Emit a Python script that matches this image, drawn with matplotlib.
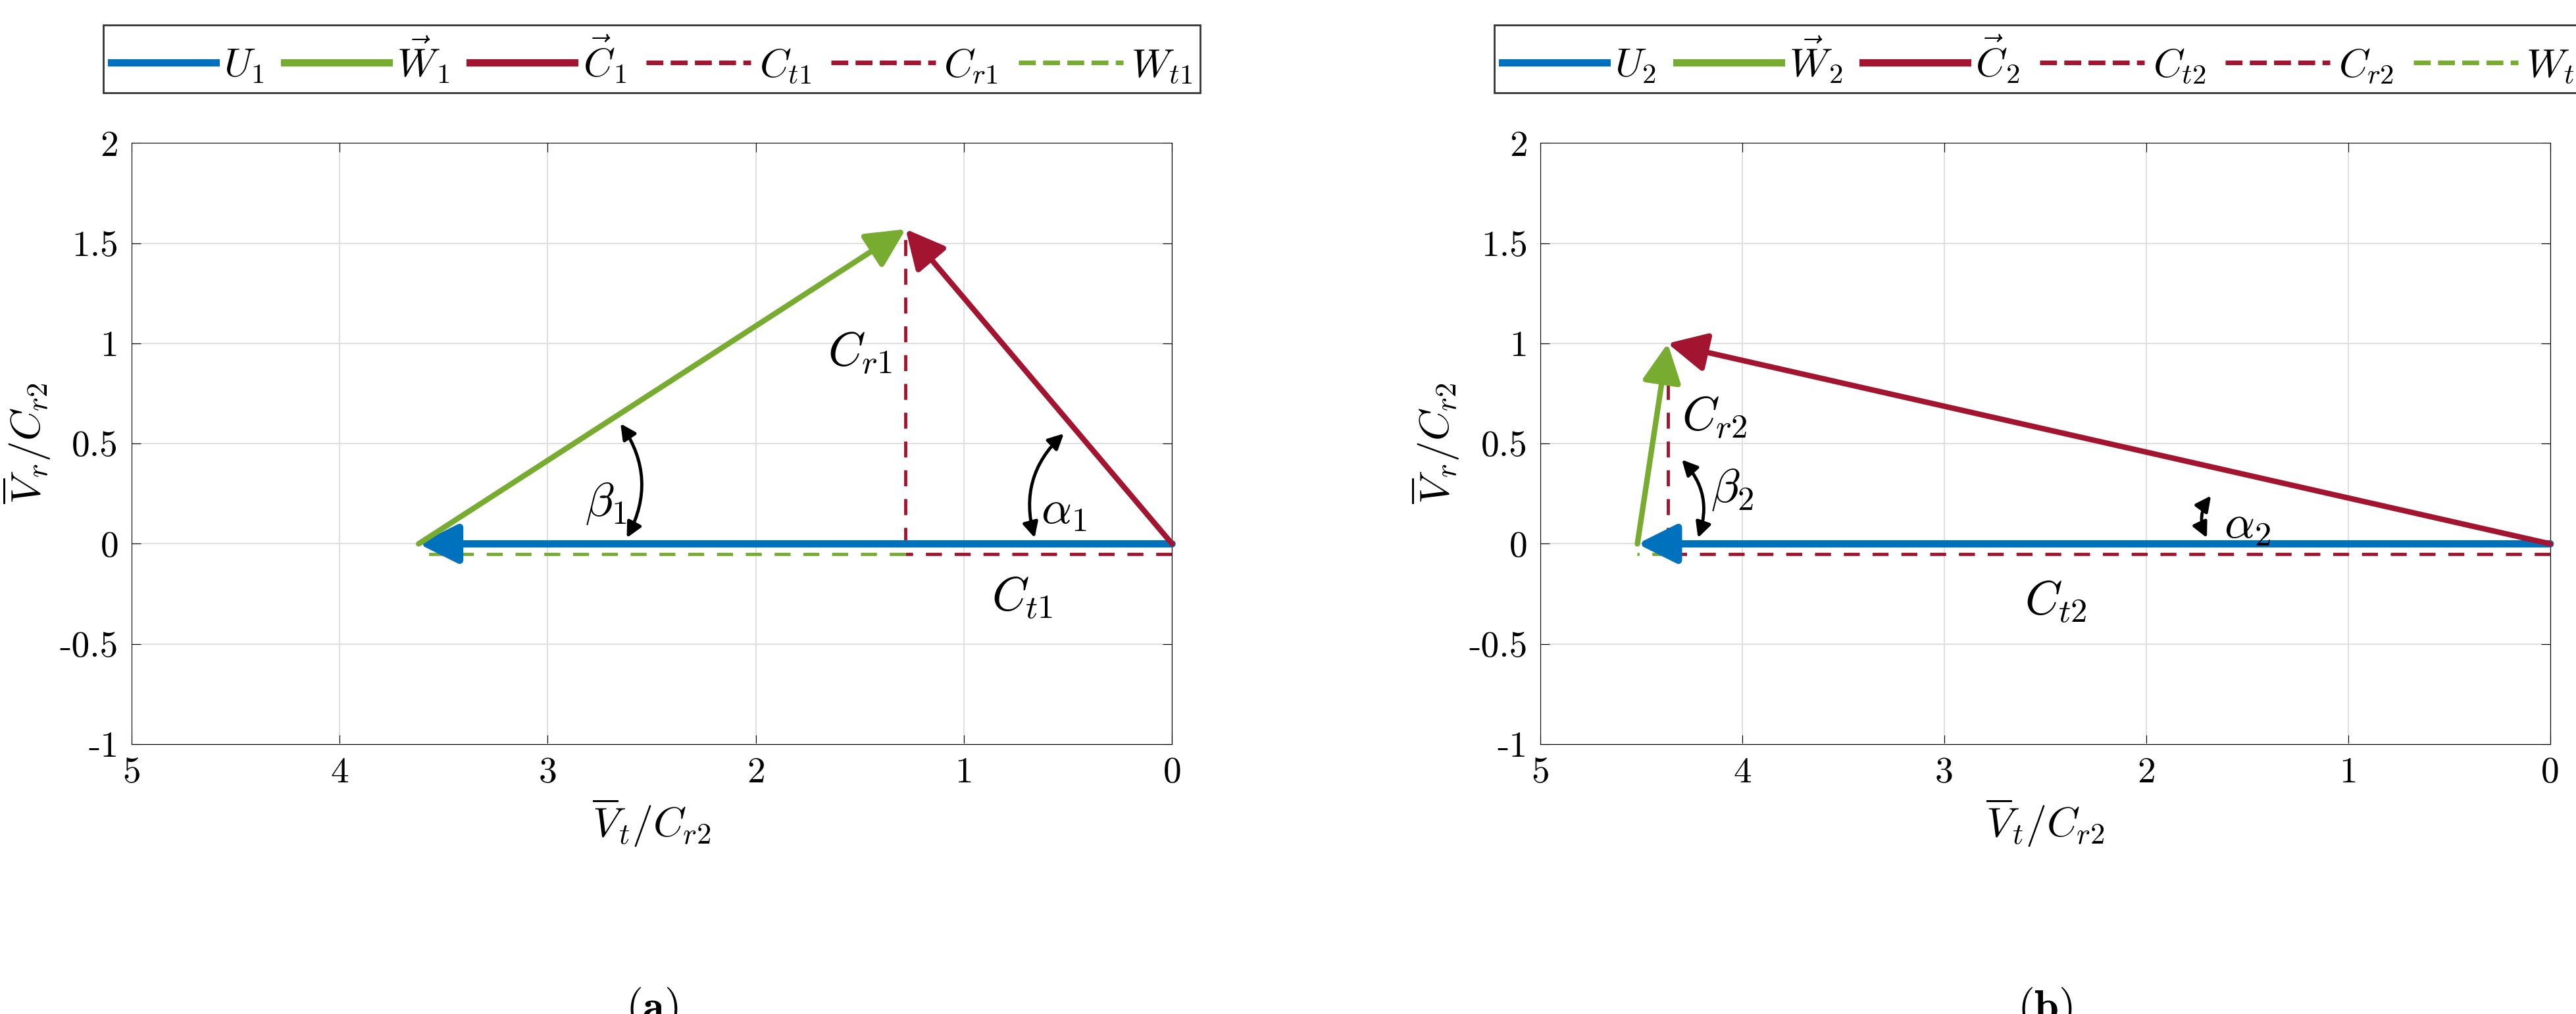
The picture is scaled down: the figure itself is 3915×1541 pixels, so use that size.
import matplotlib
matplotlib.use("Agg")
import matplotlib.pyplot as plt
from matplotlib.lines import Line2D

plt.rcParams['mathtext.fontset'] = 'cm'
plt.rcParams['font.family'] = ['cmr10', 'DejaVu Serif']

# data
U_end = [3.62, 4.52]          # U vector tip (x), starts at 0
apex_x = [1.28, 4.37]         # tip of W and C
apex_y = [1.57, 1.00]
offset = -0.05                # dashed component lines
xticks = [5, 4, 3, 2, 1, 0]
yticks = [-1, -0.5, 0, 0.5, 1, 1.5, 2]
ytick_labels = ['-1', '-0.5', '0', '0.5', '1', '1.5', '2']
beta_pos = [(2.72, 0.2), (4.05, 0.27)]
alpha_pos = [(0.52, 0.16), (1.50, 0.09)]
beta_arc = [((2.65, 0.60), (2.62, 0.03)), ((4.30, 0.42), (4.22, 0.03))]
alpha_arc = [((0.52, 0.55), (0.66, 0.03)), ((1.68, 0.24), (1.70, 0.03))]
cr_pos = [(1.50, 0.95), (4.14, 0.63)]
ct_pos = [(0.72, -0.27), (2.45, -0.29)]
captions = [r'($\mathbf{a}$)', r'($\mathbf{b}$)']

blue = '#0072BD'; green = '#77AC30'; red = '#A2142F'
fig = plt.figure(figsize=(39.15, 15.41), dpi=100)
axes = [fig.add_axes([0.051, 0.266, 0.404, 0.593]),
        fig.add_axes([0.598, 0.266, 0.392, 0.593])]

for i, ax in enumerate(axes):
    n = i + 1
    ax.set_xlim(5, 0); ax.set_ylim(-1, 2)
    ax.set_xticks(xticks); ax.set_yticks(yticks)
    ax.set_xticklabels([str(t) for t in xticks])
    ax.set_yticklabels(ytick_labels)
    ax.tick_params(labelsize=40, direction='in', length=10, top=True, right=True, pad=14)
    ax.grid(True, color='#e0e0e0', lw=1.5)
    ax.set_axisbelow(True)
    ax.set_xlabel(r'$\overline{V}_t/C_{r2}$', fontsize=46, labelpad=8)
    ax.set_ylabel(r'$\overline{V}_r/C_{r2}$', fontsize=46, labelpad=8)
    ux, ax_, ay = U_end[i], apex_x[i], apex_y[i]
    ax.plot([0, ax_], [offset, offset], '--', color=red, lw=3.5, dashes=(5, 4))
    ax.plot([ax_, ax_], [0, ay], '--', color=red, lw=3.5, dashes=(5, 4))
    ax.plot([ax_, ux], [offset, offset], '--', color=green, lw=3.5, dashes=(5, 4))
    ap = dict(arrowstyle='-|>', mutation_scale=90, shrinkA=0, shrinkB=0)
    ax.annotate('', xy=(ux, 0), xytext=(0, 0),
                arrowprops=dict(color=blue, lw=8, **ap))
    ax.annotate('', xy=(ax_, ay), xytext=(ux, 0),
                arrowprops=dict(color=green, lw=6, **ap))
    ax.annotate('', xy=(ax_, ay), xytext=(0, 0),
                arrowprops=dict(color=red, lw=6, **ap))
    for (s, e), rad in [(beta_arc[i], -0.3), (alpha_arc[i], 0.3)]:
        ax.annotate('', xy=e, xytext=s,
                    arrowprops=dict(arrowstyle='<|-|>', color='black', lw=3.5,
                                    mutation_scale=35, shrinkA=0, shrinkB=0,
                                    connectionstyle=f'arc3,rad={rad}'))
    ax.text(*beta_pos[i], rf'$\beta_{n}$', fontsize=52, ha='center', va='center')
    ax.text(*alpha_pos[i], rf'$\alpha_{n}$', fontsize=52, ha='center', va='center')
    ax.text(*cr_pos[i], rf'$C_{{r{n}}}$', fontsize=52, ha='center', va='center')
    ax.text(*ct_pos[i], rf'$C_{{t{n}}}$', fontsize=52, ha='center', va='center')
    handles = [Line2D([], [], color=blue, lw=8),
               Line2D([], [], color=green, lw=8),
               Line2D([], [], color=red, lw=8),
               Line2D([], [], color=red, lw=5, ls='--'),
               Line2D([], [], color=red, lw=5, ls='--'),
               Line2D([], [], color=green, lw=5, ls='--')]
    labels = [rf'$U_{n}$', rf'$\vec{{W}}_{n}$', rf'$\vec{{C}}_{n}$',
              rf'$C_{{t{n}}}$', rf'$C_{{r{n}}}$', rf'$W_{{t{n}}}$']
    pos = ax.get_position()
    leg = fig.legend(handles, labels, ncol=6, fontsize=44,
                     loc='upper center',
                     bbox_to_anchor=(pos.x0 + pos.width / 2, 0.995),
                     fancybox=False, edgecolor='black', handlelength=2.6,
                     columnspacing=0.5, handletextpad=0.2, borderpad=0.2)
    leg.get_frame().set_linewidth(2)
    ax.text(0.5, -0.44, captions[i], transform=ax.transAxes, fontsize=48,
            ha='center', va='center')

fig.savefig('out.png', dpi=100)
